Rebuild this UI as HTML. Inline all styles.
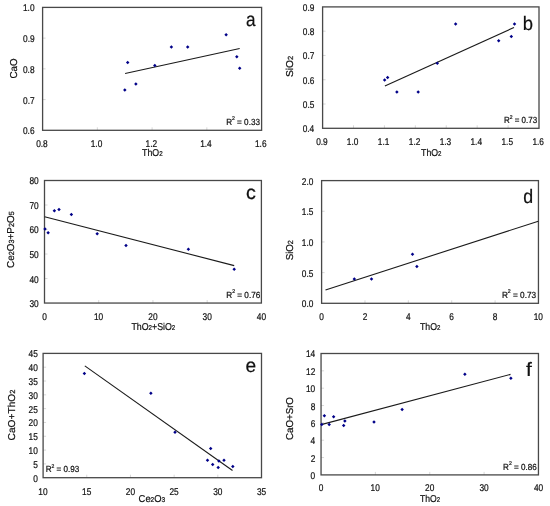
<!DOCTYPE html>
<html><head><meta charset="utf-8"><title>Figure</title>
<style>
html,body{margin:0;padding:0;background:#fff;}
body{width:550px;height:506px;overflow:hidden;}
svg{display:block;}
text{font-family:"Liberation Sans", Arial, sans-serif;fill:#111;font-kerning:none;text-rendering:geometricPrecision;stroke:#111;stroke-width:0.22px;}
</style></head><body>
<svg width="550" height="506" viewBox="0 0 550 506">
<rect width="550" height="506" fill="#fff"/>
<path d="M97.35 130.30v-3M152.10 130.30v-3M206.85 130.30v-3M42.60 38.12h3M42.60 68.85h3M42.60 99.58h3" stroke="#d4d4d4" stroke-width="0.9" fill="none"/>
<rect x="42.60" y="7.40" width="219.00" height="122.90" fill="none" stroke="#484848" stroke-width="1.3"/>
<text transform="translate(36.13 146.77) scale(0.850 1)"><tspan font-size="9.8">0.8</tspan></text>
<text transform="translate(90.71 146.77) scale(0.850 1)"><tspan font-size="9.8">1.0</tspan></text>
<text transform="translate(145.50 146.82) scale(0.850 1)"><tspan font-size="9.8">1.2</tspan></text>
<text transform="translate(200.16 146.77) scale(0.850 1)"><tspan font-size="9.8">1.4</tspan></text>
<text transform="translate(254.98 146.77) scale(0.850 1)"><tspan font-size="9.8">1.6</tspan></text>
<text transform="translate(22.95 11.37) scale(0.850 1)"><tspan font-size="9.8">1.0</tspan></text>
<text transform="translate(23.01 42.10) scale(0.850 1)"><tspan font-size="9.8">0.9</tspan></text>
<text transform="translate(22.98 72.82) scale(0.850 1)"><tspan font-size="9.8">0.8</tspan></text>
<text transform="translate(23.04 103.55) scale(0.850 1)"><tspan font-size="9.8">0.7</tspan></text>
<text transform="translate(22.99 134.27) scale(0.850 1)"><tspan font-size="9.8">0.6</tspan></text>
<text transform="translate(142.10 156.07) scale(0.879 1)"><tspan font-size="10">ThO</tspan><tspan font-size="7">2</tspan></text>
<text transform="translate(17.14 78.60) rotate(-90) scale(0.981 1)"><tspan font-size="10">CaO</tspan></text>
<text transform="translate(245.97 25.82) scale(0.883 1)" fill="#000"><tspan font-size="19.4">a</tspan></text>
<text transform="translate(226.13 124.70) scale(0.925 1)"><tspan font-size="8.8">R</tspan><tspan font-size="5.5" dy="-4.3">2</tspan><tspan font-size="8.8" dy="4.3"> = 0.33</tspan></text>
<line x1="125.10" y1="73.50" x2="239.70" y2="48.50" stroke="#1a1a1a" stroke-width="1.1"/>
<path d="M124.80 88.35l1.75 1.75l-1.75 1.75l-1.75 -1.75z" fill="#000088"/>
<path d="M127.70 60.75l1.75 1.75l-1.75 1.75l-1.75 -1.75z" fill="#000088"/>
<path d="M135.90 82.25l1.75 1.75l-1.75 1.75l-1.75 -1.75z" fill="#000088"/>
<path d="M154.80 63.65l1.75 1.75l-1.75 1.75l-1.75 -1.75z" fill="#000088"/>
<path d="M171.40 45.35l1.75 1.75l-1.75 1.75l-1.75 -1.75z" fill="#000088"/>
<path d="M187.70 45.35l1.75 1.75l-1.75 1.75l-1.75 -1.75z" fill="#000088"/>
<path d="M226.10 32.95l1.75 1.75l-1.75 1.75l-1.75 -1.75z" fill="#000088"/>
<path d="M236.80 54.95l1.75 1.75l-1.75 1.75l-1.75 -1.75z" fill="#000088"/>
<path d="M239.70 66.55l1.75 1.75l-1.75 1.75l-1.75 -1.75z" fill="#000088"/>
<path d="M353.51 128.30v-3M384.43 128.30v-3M415.34 128.30v-3M446.26 128.30v-3M477.17 128.30v-3M508.09 128.30v-3M322.60 31.18h3M322.60 55.46h3M322.60 79.74h3M322.60 104.02h3" stroke="#d4d4d4" stroke-width="0.9" fill="none"/>
<rect x="322.60" y="6.90" width="216.40" height="121.40" fill="none" stroke="#484848" stroke-width="1.3"/>
<text transform="translate(316.14 145.17) scale(0.850 1)"><tspan font-size="9.8">0.9</tspan></text>
<text transform="translate(346.87 145.17) scale(0.850 1)"><tspan font-size="9.8">1.0</tspan></text>
<text transform="translate(377.82 145.17) scale(0.850 1)"><tspan font-size="9.8">1.1</tspan></text>
<text transform="translate(408.75 145.22) scale(0.850 1)"><tspan font-size="9.8">1.2</tspan></text>
<text transform="translate(439.63 145.17) scale(0.850 1)"><tspan font-size="9.8">1.3</tspan></text>
<text transform="translate(470.49 145.17) scale(0.850 1)"><tspan font-size="9.8">1.4</tspan></text>
<text transform="translate(501.45 145.12) scale(0.850 1)"><tspan font-size="9.8">1.5</tspan></text>
<text transform="translate(532.38 145.17) scale(0.850 1)"><tspan font-size="9.8">1.6</tspan></text>
<text transform="translate(302.81 10.87) scale(0.850 1)"><tspan font-size="9.8">0.9</tspan></text>
<text transform="translate(302.78 35.15) scale(0.850 1)"><tspan font-size="9.8">0.8</tspan></text>
<text transform="translate(302.84 59.43) scale(0.850 1)"><tspan font-size="9.8">0.7</tspan></text>
<text transform="translate(302.79 83.71) scale(0.850 1)"><tspan font-size="9.8">0.6</tspan></text>
<text transform="translate(302.77 107.99) scale(0.850 1)"><tspan font-size="9.8">0.5</tspan></text>
<text transform="translate(302.66 132.27) scale(0.850 1)"><tspan font-size="9.8">0.4</tspan></text>
<text transform="translate(421.05 156.17) scale(0.874 1)"><tspan font-size="10">ThO</tspan><tspan font-size="7">2</tspan></text>
<text transform="translate(292.97 77.12) rotate(-90) scale(1.027 1)"><tspan font-size="10">SiO</tspan><tspan font-size="7.4">2</tspan></text>
<text transform="translate(522.86 29.83) scale(0.951 1)" fill="#000"><tspan font-size="19.4">b</tspan></text>
<text transform="translate(503.94 122.90) scale(0.908 1)"><tspan font-size="8.8">R</tspan><tspan font-size="5.5" dy="-4.3">2</tspan><tspan font-size="8.8" dy="4.3"> = 0.73</tspan></text>
<line x1="384.90" y1="86.10" x2="514.00" y2="27.50" stroke="#1a1a1a" stroke-width="1.1"/>
<path d="M384.60 78.35l1.75 1.75l-1.75 1.75l-1.75 -1.75z" fill="#000088"/>
<path d="M387.60 75.65l1.75 1.75l-1.75 1.75l-1.75 -1.75z" fill="#000088"/>
<path d="M396.90 90.35l1.75 1.75l-1.75 1.75l-1.75 -1.75z" fill="#000088"/>
<path d="M418.20 90.35l1.75 1.75l-1.75 1.75l-1.75 -1.75z" fill="#000088"/>
<path d="M437.30 61.45l1.75 1.75l-1.75 1.75l-1.75 -1.75z" fill="#000088"/>
<path d="M455.60 22.15l1.75 1.75l-1.75 1.75l-1.75 -1.75z" fill="#000088"/>
<path d="M498.70 39.05l1.75 1.75l-1.75 1.75l-1.75 -1.75z" fill="#000088"/>
<path d="M511.30 34.75l1.75 1.75l-1.75 1.75l-1.75 -1.75z" fill="#000088"/>
<path d="M514.50 22.15l1.75 1.75l-1.75 1.75l-1.75 -1.75z" fill="#000088"/>
<path d="M98.72 303.05v-3M152.95 303.05v-3M207.17 303.05v-3M44.50 205.01h3M44.50 229.52h3M44.50 254.03h3M44.50 278.54h3" stroke="#d4d4d4" stroke-width="0.9" fill="none"/>
<rect x="44.50" y="180.50" width="216.90" height="122.55" fill="none" stroke="#484848" stroke-width="1.3"/>
<text transform="translate(42.18 319.67) scale(0.850 1)"><tspan font-size="9.8">0</tspan></text>
<text transform="translate(93.94 319.67) scale(0.850 1)"><tspan font-size="9.8">10</tspan></text>
<text transform="translate(148.27 319.67) scale(0.850 1)"><tspan font-size="9.8">20</tspan></text>
<text transform="translate(202.55 319.67) scale(0.850 1)"><tspan font-size="9.8">30</tspan></text>
<text transform="translate(256.83 319.67) scale(0.850 1)"><tspan font-size="9.8">40</tspan></text>
<text transform="translate(29.46 184.47) scale(0.850 1)"><tspan font-size="9.8">80</tspan></text>
<text transform="translate(29.46 208.98) scale(0.850 1)"><tspan font-size="9.8">70</tspan></text>
<text transform="translate(29.46 233.49) scale(0.850 1)"><tspan font-size="9.8">60</tspan></text>
<text transform="translate(29.46 258.00) scale(0.850 1)"><tspan font-size="9.8">50</tspan></text>
<text transform="translate(29.46 282.51) scale(0.850 1)"><tspan font-size="9.8">40</tspan></text>
<text transform="translate(29.46 307.02) scale(0.850 1)"><tspan font-size="9.8">30</tspan></text>
<text transform="translate(131.45 329.57) scale(0.881 1)"><tspan font-size="10">ThO</tspan><tspan font-size="7">2</tspan><tspan font-size="10">+SiO</tspan><tspan font-size="7">2</tspan></text>
<text transform="translate(14.14 267.90) rotate(-90) scale(0.988 1)"><tspan font-size="10">Ce</tspan><tspan font-size="7.4">2</tspan><tspan font-size="10">O</tspan><tspan font-size="7.4">3</tspan><tspan font-size="10">+P</tspan><tspan font-size="7.4">2</tspan><tspan font-size="10">O</tspan><tspan font-size="7.4">5</tspan></text>
<text transform="translate(246.11 199.32) scale(1.016 1)" fill="#000"><tspan font-size="19.4">c</tspan></text>
<text transform="translate(226.23 297.70) scale(0.933 1)"><tspan font-size="8.8">R</tspan><tspan font-size="5.5" dy="-4.3">2</tspan><tspan font-size="8.8" dy="4.3"> = 0.76</tspan></text>
<line x1="44.60" y1="216.80" x2="234.20" y2="265.60" stroke="#1a1a1a" stroke-width="1.1"/>
<path d="M54.40 208.95l1.75 1.75l-1.75 1.75l-1.75 -1.75z" fill="#000088"/>
<path d="M59.00 207.85l1.75 1.75l-1.75 1.75l-1.75 -1.75z" fill="#000088"/>
<path d="M71.40 212.85l1.75 1.75l-1.75 1.75l-1.75 -1.75z" fill="#000088"/>
<path d="M45.00 227.25l1.75 1.75l-1.75 1.75l-1.75 -1.75z" fill="#000088"/>
<path d="M48.10 230.95l1.75 1.75l-1.75 1.75l-1.75 -1.75z" fill="#000088"/>
<path d="M97.20 232.05l1.75 1.75l-1.75 1.75l-1.75 -1.75z" fill="#000088"/>
<path d="M126.00 243.65l1.75 1.75l-1.75 1.75l-1.75 -1.75z" fill="#000088"/>
<path d="M188.40 247.45l1.75 1.75l-1.75 1.75l-1.75 -1.75z" fill="#000088"/>
<path d="M234.20 267.55l1.75 1.75l-1.75 1.75l-1.75 -1.75z" fill="#000088"/>
<path d="M364.97 303.30v-3M408.34 303.30v-3M451.71 303.30v-3M495.08 303.30v-3M321.60 211.28h3M321.60 241.95h3M321.60 272.62h3" stroke="#d4d4d4" stroke-width="0.9" fill="none"/>
<rect x="321.60" y="180.60" width="216.85" height="122.70" fill="none" stroke="#484848" stroke-width="1.3"/>
<text transform="translate(319.28 319.77) scale(0.850 1)"><tspan font-size="9.8">0</tspan></text>
<text transform="translate(362.65 319.82) scale(0.850 1)"><tspan font-size="9.8">2</tspan></text>
<text transform="translate(406.05 319.77) scale(0.850 1)"><tspan font-size="9.8">4</tspan></text>
<text transform="translate(449.37 319.77) scale(0.850 1)"><tspan font-size="9.8">6</tspan></text>
<text transform="translate(492.76 319.77) scale(0.850 1)"><tspan font-size="9.8">8</tspan></text>
<text transform="translate(533.66 319.77) scale(0.850 1)"><tspan font-size="9.8">10</tspan></text>
<text transform="translate(301.85 184.57) scale(0.850 1)"><tspan font-size="9.8">2.0</tspan></text>
<text transform="translate(301.87 215.20) scale(0.850 1)"><tspan font-size="9.8">1.5</tspan></text>
<text transform="translate(301.85 245.92) scale(0.850 1)"><tspan font-size="9.8">1.0</tspan></text>
<text transform="translate(301.87 276.60) scale(0.850 1)"><tspan font-size="9.8">0.5</tspan></text>
<text transform="translate(301.85 307.27) scale(0.850 1)"><tspan font-size="9.8">0.0</tspan></text>
<text transform="translate(419.95 329.77) scale(0.874 1)"><tspan font-size="10">ThO</tspan><tspan font-size="7">2</tspan></text>
<text transform="translate(292.67 260.34) rotate(-90) scale(0.972 1)"><tspan font-size="10">SiO</tspan><tspan font-size="7.4">2</tspan></text>
<text transform="translate(523.25 203.13) scale(0.917 1)" fill="#000"><tspan font-size="19.4">d</tspan></text>
<text transform="translate(501.92 297.50) scale(0.936 1)"><tspan font-size="8.8">R</tspan><tspan font-size="5.5" dy="-4.3">2</tspan><tspan font-size="8.8" dy="4.3"> = 0.73</tspan></text>
<line x1="325.50" y1="290.00" x2="538.30" y2="221.20" stroke="#1a1a1a" stroke-width="1.1"/>
<path d="M354.30 277.15l1.75 1.75l-1.75 1.75l-1.75 -1.75z" fill="#000088"/>
<path d="M371.50 277.15l1.75 1.75l-1.75 1.75l-1.75 -1.75z" fill="#000088"/>
<path d="M412.50 252.45l1.75 1.75l-1.75 1.75l-1.75 -1.75z" fill="#000088"/>
<path d="M416.90 264.65l1.75 1.75l-1.75 1.75l-1.75 -1.75z" fill="#000088"/>
<path d="M86.78 477.70v-3M130.46 477.70v-3M174.14 477.70v-3M217.82 477.70v-3M43.10 367.21h3M43.10 381.02h3M43.10 394.83h3M43.10 408.64h3M43.10 422.46h3M43.10 436.27h3M43.10 450.08h3M43.10 463.89h3" stroke="#d4d4d4" stroke-width="0.9" fill="none"/>
<rect x="43.10" y="353.40" width="218.40" height="124.30" fill="none" stroke="#484848" stroke-width="1.3"/>
<text transform="translate(38.31 494.67) scale(0.850 1)"><tspan font-size="9.8">10</tspan></text>
<text transform="translate(82.00 494.62) scale(0.850 1)"><tspan font-size="9.8">15</tspan></text>
<text transform="translate(125.78 494.67) scale(0.850 1)"><tspan font-size="9.8">20</tspan></text>
<text transform="translate(169.47 494.67) scale(0.850 1)"><tspan font-size="9.8">25</tspan></text>
<text transform="translate(213.19 494.67) scale(0.850 1)"><tspan font-size="9.8">30</tspan></text>
<text transform="translate(256.88 494.67) scale(0.850 1)"><tspan font-size="9.8">35</tspan></text>
<text transform="translate(28.58 357.32) scale(0.850 1)"><tspan font-size="9.8">45</tspan></text>
<text transform="translate(28.56 371.18) scale(0.850 1)"><tspan font-size="9.8">40</tspan></text>
<text transform="translate(28.58 385.00) scale(0.850 1)"><tspan font-size="9.8">35</tspan></text>
<text transform="translate(28.56 398.81) scale(0.850 1)"><tspan font-size="9.8">30</tspan></text>
<text transform="translate(28.58 412.62) scale(0.850 1)"><tspan font-size="9.8">25</tspan></text>
<text transform="translate(28.56 426.43) scale(0.850 1)"><tspan font-size="9.8">20</tspan></text>
<text transform="translate(28.58 440.19) scale(0.850 1)"><tspan font-size="9.8">15</tspan></text>
<text transform="translate(28.56 454.05) scale(0.850 1)"><tspan font-size="9.8">10</tspan></text>
<text transform="translate(33.22 467.81) scale(0.850 1)"><tspan font-size="9.8">5</tspan></text>
<text transform="translate(33.19 481.67) scale(0.850 1)"><tspan font-size="9.8">0</tspan></text>
<text transform="translate(138.62 502.34) scale(0.937 1)"><tspan font-size="10">Ce</tspan><tspan font-size="7">2</tspan><tspan font-size="10">O</tspan><tspan font-size="7">3</tspan></text>
<text transform="translate(15.17 440.42) rotate(-90) scale(1.019 1)"><tspan font-size="10">CaO+ThO</tspan><tspan font-size="7.4">2</tspan></text>
<text transform="translate(245.39 371.62) scale(0.989 1)" fill="#000"><tspan font-size="19.4">e</tspan></text>
<text transform="translate(45.64 471.90) scale(0.919 1)"><tspan font-size="8.8">R</tspan><tspan font-size="5.5" dy="-4.3">2</tspan><tspan font-size="8.8" dy="4.3"> = 0.93</tspan></text>
<line x1="84.80" y1="365.90" x2="232.50" y2="470.50" stroke="#1a1a1a" stroke-width="1.1"/>
<path d="M84.40 371.75l1.75 1.75l-1.75 1.75l-1.75 -1.75z" fill="#000088"/>
<path d="M150.90 391.45l1.75 1.75l-1.75 1.75l-1.75 -1.75z" fill="#000088"/>
<path d="M175.00 430.45l1.75 1.75l-1.75 1.75l-1.75 -1.75z" fill="#000088"/>
<path d="M210.70 446.85l1.75 1.75l-1.75 1.75l-1.75 -1.75z" fill="#000088"/>
<path d="M207.50 458.45l1.75 1.75l-1.75 1.75l-1.75 -1.75z" fill="#000088"/>
<path d="M218.90 459.15l1.75 1.75l-1.75 1.75l-1.75 -1.75z" fill="#000088"/>
<path d="M224.00 458.45l1.75 1.75l-1.75 1.75l-1.75 -1.75z" fill="#000088"/>
<path d="M212.70 462.65l1.75 1.75l-1.75 1.75l-1.75 -1.75z" fill="#000088"/>
<path d="M218.20 465.75l1.75 1.75l-1.75 1.75l-1.75 -1.75z" fill="#000088"/>
<path d="M232.80 464.65l1.75 1.75l-1.75 1.75l-1.75 -1.75z" fill="#000088"/>
<path d="M375.40 474.90v-3M429.75 474.90v-3M484.10 474.90v-3M321.05 370.84h3M321.05 388.19h3M321.05 405.53h3M321.05 422.87h3M321.05 440.21h3M321.05 457.56h3" stroke="#d4d4d4" stroke-width="0.9" fill="none"/>
<rect x="321.05" y="353.50" width="217.40" height="121.40" fill="none" stroke="#484848" stroke-width="1.3"/>
<text transform="translate(318.73 491.47) scale(0.850 1)"><tspan font-size="9.8">0</tspan></text>
<text transform="translate(370.61 491.47) scale(0.850 1)"><tspan font-size="9.8">10</tspan></text>
<text transform="translate(425.07 491.47) scale(0.850 1)"><tspan font-size="9.8">20</tspan></text>
<text transform="translate(479.47 491.47) scale(0.850 1)"><tspan font-size="9.8">30</tspan></text>
<text transform="translate(533.88 491.47) scale(0.850 1)"><tspan font-size="9.8">40</tspan></text>
<text transform="translate(305.88 357.47) scale(0.850 1)"><tspan font-size="9.8">14</tspan></text>
<text transform="translate(306.05 374.86) scale(0.850 1)"><tspan font-size="9.8">12</tspan></text>
<text transform="translate(305.96 392.16) scale(0.850 1)"><tspan font-size="9.8">10</tspan></text>
<text transform="translate(310.63 409.50) scale(0.850 1)"><tspan font-size="9.8">8</tspan></text>
<text transform="translate(310.63 426.84) scale(0.850 1)"><tspan font-size="9.8">6</tspan></text>
<text transform="translate(310.51 444.19) scale(0.850 1)"><tspan font-size="9.8">4</tspan></text>
<text transform="translate(310.69 461.58) scale(0.850 1)"><tspan font-size="9.8">2</tspan></text>
<text transform="translate(310.59 478.87) scale(0.850 1)"><tspan font-size="9.8">0</tspan></text>
<text transform="translate(420.01 502.47) scale(0.861 1)"><tspan font-size="10">ThO</tspan><tspan font-size="7">2</tspan></text>
<text transform="translate(292.84 439.94) rotate(-90) scale(0.970 1)"><tspan font-size="10">CaO+SrO</tspan></text>
<text transform="translate(526.00 376.02) scale(1.089 1)" fill="#000"><tspan font-size="19.4">f</tspan></text>
<text transform="translate(503.04 469.50) scale(0.919 1)"><tspan font-size="8.8">R</tspan><tspan font-size="5.5" dy="-4.3">2</tspan><tspan font-size="8.8" dy="4.3"> = 0.86</tspan></text>
<line x1="321.20" y1="424.60" x2="510.50" y2="374.40" stroke="#1a1a1a" stroke-width="1.1"/>
<path d="M324.40 414.05l1.75 1.75l-1.75 1.75l-1.75 -1.75z" fill="#000088"/>
<path d="M333.60 415.05l1.75 1.75l-1.75 1.75l-1.75 -1.75z" fill="#000088"/>
<path d="M321.80 422.75l1.75 1.75l-1.75 1.75l-1.75 -1.75z" fill="#000088"/>
<path d="M329.20 422.75l1.75 1.75l-1.75 1.75l-1.75 -1.75z" fill="#000088"/>
<path d="M344.90 419.35l1.75 1.75l-1.75 1.75l-1.75 -1.75z" fill="#000088"/>
<path d="M343.70 423.65l1.75 1.75l-1.75 1.75l-1.75 -1.75z" fill="#000088"/>
<path d="M374.00 420.15l1.75 1.75l-1.75 1.75l-1.75 -1.75z" fill="#000088"/>
<path d="M402.10 407.75l1.75 1.75l-1.75 1.75l-1.75 -1.75z" fill="#000088"/>
<path d="M464.90 372.55l1.75 1.75l-1.75 1.75l-1.75 -1.75z" fill="#000088"/>
<path d="M510.90 376.55l1.75 1.75l-1.75 1.75l-1.75 -1.75z" fill="#000088"/>
</svg>
</body></html>
